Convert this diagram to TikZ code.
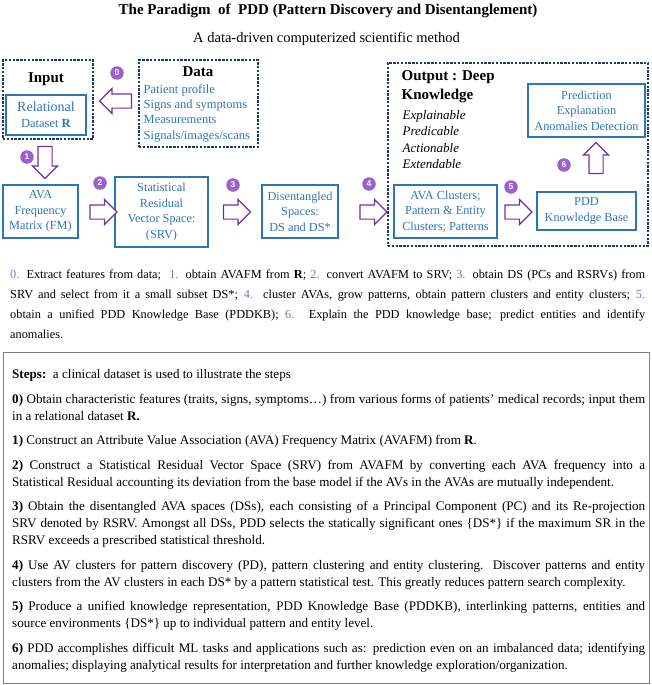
\documentclass[tikz,border=0pt]{standalone}
\usepackage{fontspec}
\setmainfont{Liberation Serif}
\setsansfont{Liberation Sans}
\usetikzlibrary{shapes.arrows}
\definecolor{boxblue}{RGB}{46,117,182}
\definecolor{navy}{RGB}{31,56,100}
\definecolor{arrowpurple}{RGB}{112,48,160}
\definecolor{dotpurple}{RGB}{155,96,208}
\definecolor{numpurple}{RGB}{140,105,205}
\definecolor{framegray}{RGB}{128,128,128}
\newcommand{\pnum}[1]{\textcolor{numpurple}{#1}}
\begin{document}
\begin{tikzpicture}[x=1pt,y=-1pt,
		dashbox/.style={draw=navy,line width=1.1pt,dash pattern=on 2.4pt off 1.4pt,inner sep=0},
		bluebox/.style={draw=boxblue,line width=1.5pt,text=boxblue,align=center,inner sep=0,font=\fontsize{12.3}{15.7}\selectfont},
		blockarrow/.style={single arrow,draw=arrowpurple,fill=white,line width=1.2pt,inner xsep=0pt,inner ysep=6.5pt,single arrow head extend=5.5pt,minimum height=27pt},
		stepdot/.style={circle,fill=dotpurple,text=white,inner sep=0,minimum size=13.5pt,font=\sffamily\bfseries\fontsize{8.5}{8.5}\selectfont},
		head/.style={font=\bfseries\fontsize{15}{19}\selectfont}]
		\useasboundingbox (0,0) rectangle (652,685);
		\node[head,anchor=base] (Title) at (328,15) {The Paradigm\ \ of\ \ PDD (Pattern Discovery and Disentanglement)};
		\node[font=\fontsize{14.5}{17}\selectfont,anchor=base] (Sub) at (326.5,43) {A data-driven computerized scientific method};
		
		\node[dashbox,minimum width=90pt,minimum height=79pt] (In) at (48,99.5) {};
		\node[head] (InT) at (46,79) {Input};
		\node[bluebox,minimum width=80pt,minimum height=40pt] (Rel) at (46,115) {{\fontsize{14}{16}\selectfont Relational}\\{\fontsize{12.5}{15}\selectfont Dataset \textbf{R}}};
		
		\node[dashbox,minimum width=119pt,minimum height=87pt] (Dat) at (198.5,103.5) {};
		\node[head] (DatT) at (198,72) {Data};
		\node[anchor=west,align=left,text=boxblue,inner sep=0,font=\fontsize{12.5}{15.3}\selectfont] (DatL) at (143.5,113) {Patient profile\\Signs and symptoms\\Measurements\\Signals/images/scans};
		
		\node[dashbox,minimum width=260pt,minimum height=183pt] (Out) at (518,154.5) {};
		\node[head,anchor=west,align=left,inner sep=0] (OutT) at (401.5,86.5) {Output : Deep\\Knowledge};
		\node[anchor=west,align=left,inner sep=0,font=\itshape\fontsize{13}{16.3}\selectfont] (OutL) at (402.5,139.5) {Explainable\\Predicable\\Actionable\\Extendable};
		\node[bluebox,minimum width=117pt,minimum height=53pt] (Pre) at (586.5,110.5) {Prediction\\Explanation\\Anomalies Detection};
		
		\node[bluebox,minimum width=75pt,minimum height=53pt] (Fm) at (40.5,211.5) {AVA\\Frequency\\Matrix (FM)};
		\node[bluebox,minimum width=93pt,minimum height=70pt] (Srv) at (161.5,212) {Statistical\\Residual\\Vector Space:\\(SRV)};
		\node[bluebox,minimum width=76pt,minimum height=53pt] (Ds) at (300,211.5) {Disentangled\\Spaces:\\DS and DS*};
		\node[bluebox,minimum width=103pt,minimum height=53pt] (Clu) at (445.5,211.5) {AVA Clusters;\\Pattern \& Entity\\Clusters; Patterns};
		\node[bluebox,minimum width=99pt,minimum height=38pt] (Kb) at (586.5,211) {PDD\\Knowledge Base};
		
		\node[blockarrow,rotate=180,minimum height=32pt] (A0) at (119,101) {};
		\node[blockarrow,rotate=-90,minimum height=32pt] (A1) at (45,159) {};
		\node[blockarrow] (A2) at (100,212) {};
		\node[blockarrow] (A3) at (233.5,212) {};
		\node[blockarrow] (A4) at (370,212) {};
		\node[blockarrow] (A5) at (515,212) {};
		\node[blockarrow,rotate=90,minimum height=31pt] (A6) at (596,161.5) {};
		
		\node[stepdot] (N0) at (117,73) {0};
		\node[stepdot] (N1) at (27,157) {1};
		\node[stepdot] (N2) at (100,183) {2};
		\node[stepdot] (N3) at (233,185) {3};
		\node[stepdot] (N4) at (369,184) {4};
		\node[stepdot] (N5) at (511,187) {5};
		\node[stepdot] (N6) at (564,165) {6};
		
		\node[anchor=base west,inner sep=0,text width=635pt,align=justify,font=\fontsize{12.3}{20}\selectfont] (Sum) at (10,278) {\pnum{0.} Extract features from data;\ \ \pnum{1.} obtain AVAFM from \textbf{R}; \pnum{2.} convert AVAFM to SRV; \pnum{3.} obtain DS (PCs and RSRVs) from\linebreak SRV and select from it a small subset DS*; \pnum{4.} cluster AVAs, grow patterns, obtain pattern clusters and entity clusters; \pnum{5.}\linebreak obtain a unified PDD Knowledge Base (PDDKB); \pnum{6.} Explain the PDD knowledge base; predict entities and identify\linebreak anomalies.};
		
		\draw[framegray,line width=1pt] (3,352) rectangle (649,683);
		\node[anchor=base west,inner sep=0,text width=633pt,align=justify,font=\fontsize{13.1}{17}\selectfont] (Steps) at (12,378.5) {\setlength{\parskip}{7.5pt}\textbf{Steps:}\ \ a clinical dataset is used to illustrate the steps\par
		\textbf{0)} Obtain characteristic features (traits, signs, symptoms…) from various forms of patients’ medical records; input them\linebreak in a relational dataset \textbf{R.}\par
		\textbf{1)} Construct an Attribute Value Association (AVA) Frequency Matrix (AVAFM) from \textbf{R}.\par
		\textbf{2)} Construct a Statistical Residual Vector Space (SRV) from AVAFM by converting each AVA frequency into a\linebreak Statistical Residual accounting its deviation from the base model if the AVs in the AVAs are mutually independent.\par
		\textbf{3)} Obtain the disentangled AVA spaces (DSs), each consisting of a Principal Component (PC) and its Re-projection\linebreak SRV denoted by RSRV. Amongst all DSs, PDD selects the statically significant ones \{DS*\} if the maximum SR in the\linebreak RSRV exceeds a prescribed statistical threshold.\par
		\textbf{4)} Use AV clusters for pattern discovery (PD), pattern clustering and entity clustering. Discover patterns and entity\linebreak clusters from the AV clusters in each DS* by a pattern statistical test. This greatly reduces pattern search complexity.\par
		\textbf{5)} Produce a unified knowledge representation, PDD Knowledge Base (PDDKB), interlinking patterns, entities and\linebreak source environments \{DS*\} up to individual pattern and entity level.\par
		\textbf{6)} PDD accomplishes difficult ML tasks and applications such as: prediction even on an imbalanced data; identifying\linebreak anomalies; displaying analytical results for interpretation and further knowledge exploration/organization.};
\end{tikzpicture}
\end{document}
